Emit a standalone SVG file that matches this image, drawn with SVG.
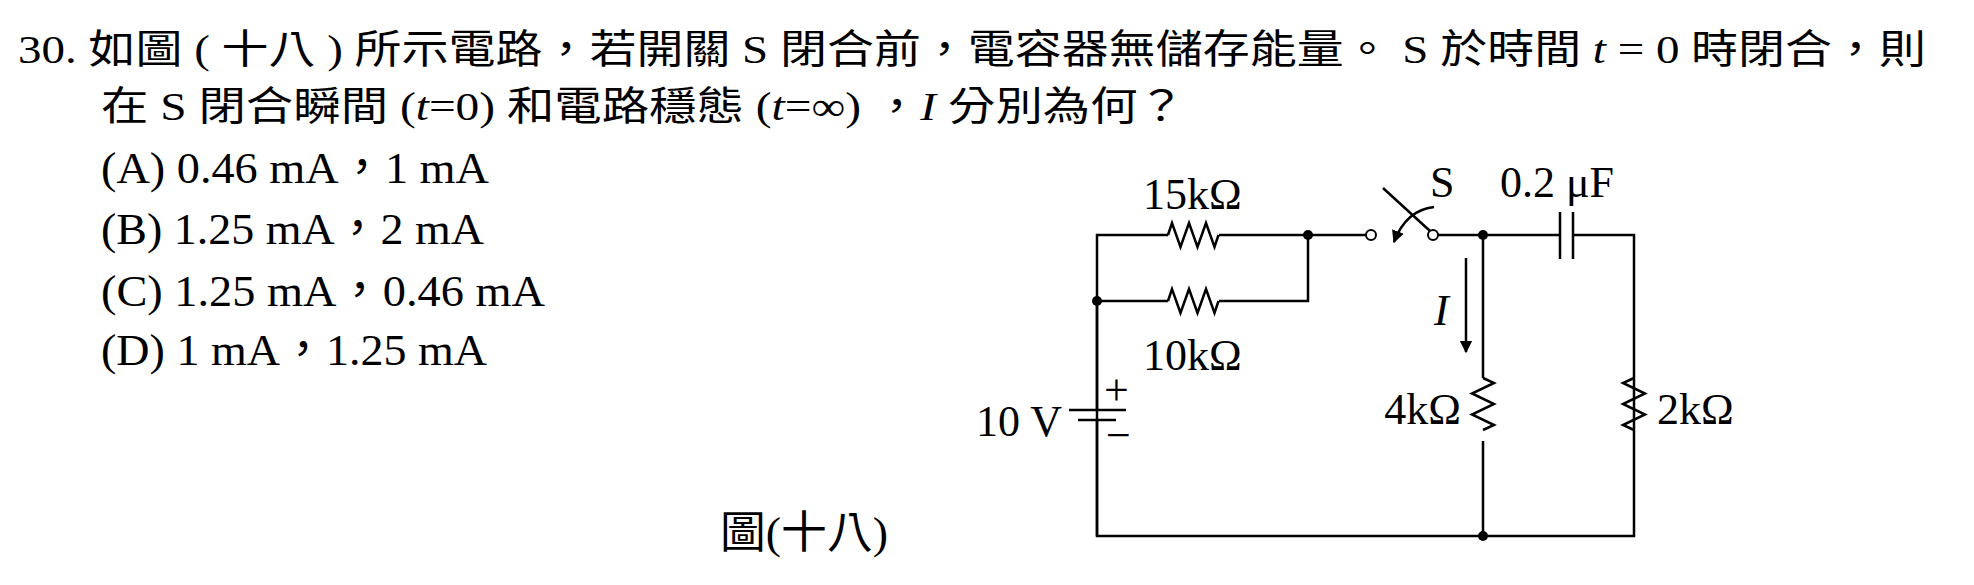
<svg xmlns="http://www.w3.org/2000/svg" width="1974" height="585" viewBox="0 0 1974 585">
<style>
.t{font-family:"Liberation Serif","Noto Sans CJK TC",serif;font-size:40px;fill:#000}
.l{font-family:"Liberation Serif","Noto Sans CJK TC",serif;font-size:44px;fill:#000}
.w{fill:none;stroke:#000;stroke-width:2.5}
.d{fill:#000}
.o{fill:#fff;stroke:#000;stroke-width:2}
</style>
<defs><marker id="ah" viewBox="0 0 10 10" refX="9" refY="5" markerWidth="5" markerHeight="6" orient="auto" markerUnits="strokeWidth"><path d="M0,0L10,5L0,10z"/></marker></defs>
<g id="question">
<text class="t" x="18" y="63" textLength="1908" lengthAdjust="spacingAndGlyphs">30. 如圖 ( 十八 ) 所示電路，若開關 S 閉合前，電容器無儲存能量。 S 於時間 <tspan font-style="italic">t</tspan> = 0 時閉合，則</text>
<text class="t" x="101" y="120" textLength="1084" lengthAdjust="spacingAndGlyphs">在 S 閉合瞬間 (<tspan font-style="italic">t</tspan>=0) 和電路穩態 (<tspan font-style="italic">t</tspan>=∞) ，<tspan font-style="italic">I</tspan> 分別為何？</text>
<text class="l" x="101" y="183" textLength="388" lengthAdjust="spacingAndGlyphs">(A) 0.46 mA，1 mA</text>
<text class="l" x="101" y="244" textLength="383" lengthAdjust="spacingAndGlyphs">(B) 1.25 mA，2 mA</text>
<text class="l" x="101" y="306" textLength="444" lengthAdjust="spacingAndGlyphs">(C) 1.25 mA，0.46 mA</text>
<text class="l" x="101" y="365" textLength="386" lengthAdjust="spacingAndGlyphs">(D) 1 mA，1.25 mA</text>
<text class="l" x="720" y="548" textLength="168" lengthAdjust="spacingAndGlyphs">圖(十八)</text>
</g>
<g id="connectors">
<path class="w" d="M1097,301V536H1634V235H1574M1559,235H1483M1438,235H1483V378M1483,441V536M1366,235H1308V301H1219M1168,301H1097V235H1168M1219,235H1308"/>
<path class="w" d="M1097,301V410M1097,420V536"/>
</g>
<g id="r15k"><path class="w" d="M1168,235l4,-12l8.5,24l8.5,-24l8.5,24l8.5,-24l8.5,24l4,-12"/><text class="l" x="1143" y="209">15kΩ</text></g>
<g id="r10k"><path class="w" d="M1168,301l4,-12l8.5,24l8.5,-24l8.5,24l8.5,-24l8.5,24l4,-12"/><text class="l" x="1143" y="370">10kΩ</text></g>
<g id="r4k"><path class="w" d="M1483,378l11,5l-22,10.5l22,10.5l-22,10.5l22,10.5l-11,5"/><text class="l" x="1461" y="424" text-anchor="end">4kΩ</text></g>
<g id="r2k"><path class="w" d="M1634,378l-11,5l22,10.5l-22,10.5l22,10.5l-22,10.5l11,5"/><text class="l" x="1657" y="424">2kΩ</text></g>
<g id="cap"><path class="w" d="M1560,212V259M1573,212V259"/><text class="l" x="1500" y="197">0.2 μF</text></g>
<g id="battery"><path class="w" d="M1069,410H1126M1078,420H1116"/><text class="l" x="1062" y="436" text-anchor="end">10 V</text><text class="l" x="1104" y="405" font-size="36">+</text><text class="l" x="1106" y="450" font-size="36">−</text></g>
<g id="switch">
<path class="w" d="M1383,188L1430,231"/>
<path class="w" d="M1434,207Q1406,210 1394,242" marker-end="url(#ah)"/>
<circle class="o" cx="1371" cy="235" r="5"/><circle class="o" cx="1433" cy="235" r="5"/>
<text class="l" x="1430" y="197">S</text>
</g>
<g id="current"><path class="w" d="M1466,258V352" marker-end="url(#ah)"/><text class="l" x="1434" y="325" font-style="italic">I</text></g>
<g id="dots"><circle class="d" cx="1308" cy="235" r="5"/><circle class="d" cx="1483" cy="235" r="5"/><circle class="d" cx="1097" cy="301" r="5"/><circle class="d" cx="1483" cy="536" r="5"/></g>
</svg>
